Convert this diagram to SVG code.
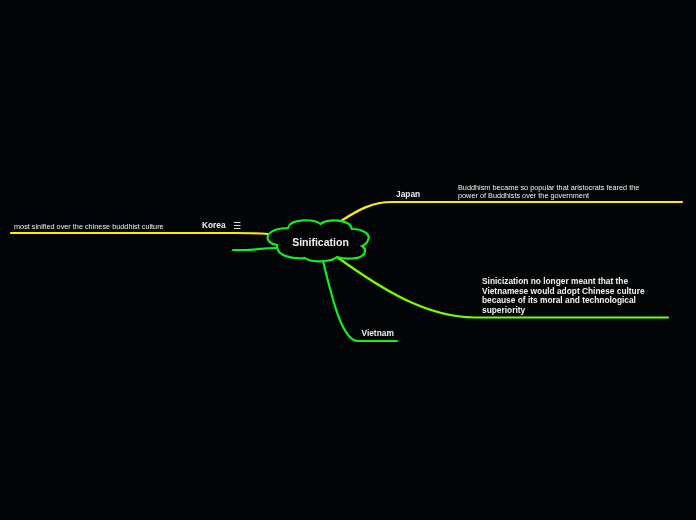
<svg xmlns="http://www.w3.org/2000/svg" width="696" height="520" viewBox="0 0 696 520">
<style>
text{font-family:"Liberation Sans",Arial,sans-serif;fill:#f0f0f0;filter:url(#gray)}
.b{font-weight:bold;font-size:8.35px}
.s{font-size:7.3px}
.c{fill:none;stroke-width:2.2;stroke-linecap:round}
.y{stroke:#ffee00}.g{stroke:#11ee22}.l{stroke:#77ff00}
</style>
<defs><filter id="gray" x="-5%" y="-20%" width="110%" height="140%"><feOffset dx="0" dy="0"/></filter></defs>
<rect width="696" height="520" fill="#020406"/>
<g id="connectors">
<path class="c y" d="M341 221C358 210 372 202 392 202H682"/>
<path class="c y" d="M268 234C258 233 250 233 235 233H11"/>
<path class="c g" d="M277 248C262 248 255 250 245 250H233"/>
<path class="c g" d="M323 261C332 298 342 341 358 341H397"/>
<path class="c l" d="M337 257C380 288 425 317 475 317.500H668"/>
</g>
<g id="center">
<path d="M288 228C290 218.500 314 218.500 320.500 224C328 218.500 350 219 352 229C364 229 371 235 368 240C367 244 364 245 362 246C368 250 365 258 352 258.500C347 259 341 258 337 257C332 262 311 263 305 258C295 259 276 257 277 245C263 243 263 229 288 228Z" fill="#020406" stroke="#11ee22" stroke-width="2.200"/>
<text x="320.500" y="246" text-anchor="middle" font-size="10.500" font-weight="bold">Sinification</text>
</g>
<g id="japan"><text class="b" x="396" y="197">Japan</text></g>
<g id="japan-note"><text class="s" x="458" y="190">Buddhism became so popular that aristocrats feared the</text><text class="s" x="458" y="198">power of Buddhists over the government</text></g>
<g id="korea"><text class="b" x="202" y="228">Korea</text><path d="M234 222.500h6.500M234 225.500h6.500M234 228.500h6.500" stroke="#ddd" stroke-width="1"/></g>
<g id="korea-note"><text class="s" x="14" y="229">most sinified over the chinese buddhist culture</text></g>
<g id="vietnam"><text class="b" x="361.500" y="336">Vietnam</text></g>
<g id="vietnam-note"><text class="b" x="482" y="284">Sinicization no longer meant that the</text><text class="b" x="482" y="294">Vietnamese would adopt Chinese culture</text><text class="b" x="482" y="303">because of its moral and technological</text><text class="b" x="482" y="313">superiority</text></g>
</svg>
